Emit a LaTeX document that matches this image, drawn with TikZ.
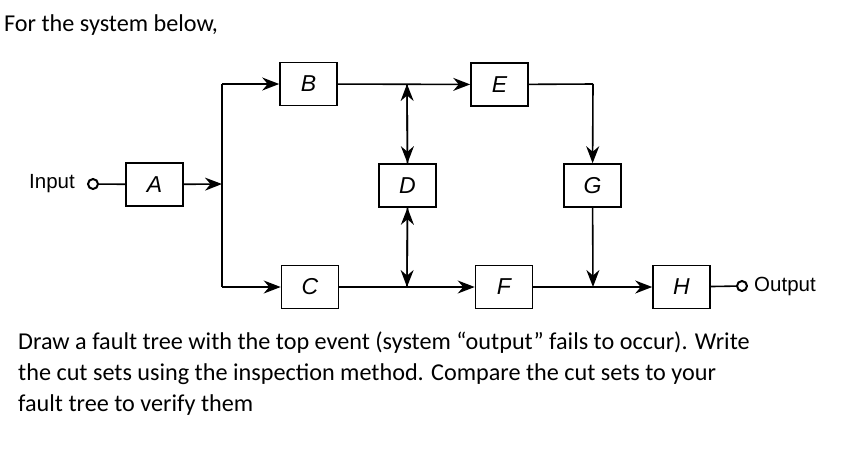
\documentclass[tikz,border=0pt]{standalone}
\usepackage{fontspec}
\setmainfont{Carlito}
\newfontfamily\diag{Liberation Sans}
\usetikzlibrary{arrows.meta}
\begin{document}
\begin{tikzpicture}[x=1pt,y=-1pt,
  blk/.style={draw,line width=1.6pt,minimum width=57pt,minimum height=43pt,inner sep=0pt,font=\diag\itshape\fontsize{23}{23}\selectfont},
  ln/.style={line width=1.6pt},
  ar/.style={ln,-{Stealth[length=17pt,width=13pt]}},
  term/.style={circle,draw,line width=2pt,minimum size=10pt,inner sep=0pt},
  lbl/.style={font=\diag\fontsize{20.5}{20.5}\selectfont,inner sep=0pt},
  txt/.style={anchor=west,inner sep=0pt,font=\fontsize{24.2}{24.2}\selectfont}]
\useasboundingbox (0,0) rectangle (841,467);
\node[txt] (t0) at (4,25) {For the system below,};
\node[blk] (A) at (154.5,184.5) {A};
\node[blk] (B) at (308.5,84) {B};
\node[blk] (C) at (310,287) {C};
\node[blk] (D) at (407.5,185.5) {D};
\node[blk] (E) at (499.5,84.5) {E};
\node[blk] (G) at (592.5,185.5) {G};
\node[blk] (F) at (504,287) {F};
\node[blk] (H) at (681.5,287) {H};
\node[term] (in) at (93,184) {};
\node[term] (out) at (742,286) {};
\node[lbl,anchor=east] (il) at (75,184) {Input};
\node[lbl,anchor=west] (ol) at (754,286) {Output};
\coordinate (j1) at (222,184);
\coordinate (j2) at (222,84);
\coordinate (j3) at (222,287);
\coordinate (dt) at (407,84);
\coordinate (db) at (407,287);
\coordinate (gt) at (593,84);
\coordinate (gb) at (593,287);
\draw[ln] (in) -- (A);
\draw[ar] (A) -- (j1);
\draw[ln] (j2) -- (j3);
\draw[ar] (j2) -- (B);
\draw[ar] (j3) -- (C);
\draw[ar] (B) -- (E);
\draw[ar] (C) -- (F);
\draw[ar] (D.north) -- (dt);
\draw[ar] (dt) -- (D.north);
\draw[ar] (D.south) -- (db);
\draw[ar] (db) -- (D.south);
\draw[ln] (E) -- (gt);
\draw[ar] (gt) -- (G);
\draw[ar] (G) -- (gb);
\draw[ar] (F) -- (H);
\draw[ln] (H) -- (out);
\node[txt] (t1) at (18,343) {Draw a fault tree with the top event (system “output” fails to occur). Write};
\node[txt] (t2) at (18,374) {the cut sets using the inspection method. Compare the cut sets to your};
\node[txt] (t3) at (18,405) {fault tree to verify them};
\end{tikzpicture}
\end{document}
